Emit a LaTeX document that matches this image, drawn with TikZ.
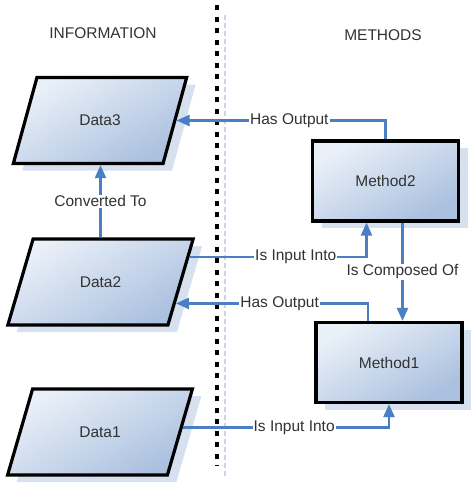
\documentclass[tikz,border=0pt]{standalone}
\usepackage{fontspec}
\setmainfont{Liberation Sans}
\usepackage{tikz}
\usetikzlibrary{
  arrows.meta,
  positioning,
  shapes.geometric,
  shadows,
  calc
}
\definecolor{boxlight}{RGB}{234, 240, 248}
\definecolor{boxdeep}{RGB}{170, 192, 223}
\definecolor{shadeblue}{RGB}{214, 224, 238}
\definecolor{linkblue}{RGB}{74, 126, 197}
\definecolor{sepshadow}{RGB}{200, 214, 235}
\definecolor{inkgray}{RGB}{50, 50, 50}
\pgfdeclareverticalshading{boxshade}{100bp}{color(0bp)=(boxdeep); color(25bp)=(boxdeep); color(75bp)=(boxlight); color(100bp)=(boxlight)}
\newcommand\dgfont{\fontsize{15.5}{18}\selectfont}

\tikzset{
  base/.style={draw=black, line width=3.2pt, shading=boxshade, shading angle=30,
    drop shadow={shadow xshift=9pt, shadow yshift=-7pt, fill=shadeblue, opacity=1},
    font=\dgfont, text=inkgray},
  datanode/.style={base, trapezium, trapezium left angle=63, trapezium right angle=117,
    trapezium stretches=true, minimum width=186pt, minimum height=86pt},
  methodnode/.style={base, rectangle, minimum width=146pt, minimum height=80pt},
  link/.style={draw=linkblue, line width=2.3pt, -{Triangle[length=13pt,width=11pt]}},
  linklabel/.style={fill=white, inner sep=1pt, font=\dgfont, text=inkgray},
  heading/.style={font=\dgfont, text=inkgray}
}

\begin{document}
\begin{tikzpicture}[x=1pt, y=-1pt]
  \useasboundingbox (0, 0) rectangle (474, 491);
  % separator between the two columns
  \coordinate (septop) at (217, 5);
  \coordinate (sepbot) at (217, 466);
  \draw[sepshadow, line width=1.5pt, dash pattern=on 5pt off 3pt] ([shift={(8pt,-10pt)}]septop) -- ([shift={(8pt,-10pt)}]sepbot);
  \draw[black, line width=3.8pt, dash pattern=on 5pt off 6.5pt] (septop) -- (sepbot);
  \node[heading] (infohead) at (103, 33) {INFORMATION};
  \node[heading] (methhead) at (383, 35) {METHODS};
  % information column
  \node[datanode, minimum width=174pt] (d3) at (100, 120.5) {Data3};
  \node[datanode] (d2) at (100.5, 282) {Data2};
  \node[datanode] (d1) at (100, 432) {Data1};
  % methods column
  \node[methodnode] (m2) at (385.5, 181) {Method2};
  \node[methodnode] (m1) at (389, 362.5) {Method1};
  % relations
  \draw[link] (d2.north) -- node[linklabel] {Converted To} (d2.north |- d3.south);
  \draw[link] (m2.north) |- node[linklabel, pos=0.73] {Has Output} (d3.east);
  \draw[link] ($(d2.top right corner)!0.22!(d2.bottom right corner)$)
    -| node[linklabel, pos=0.3] {Is Input Into} ([xshift=-19pt]m2.south);
  \draw[link] ([xshift=17pt]m2.south) -- node[linklabel] {Is Composed Of} ([xshift=17pt]m2.south |- m1.north);
  \draw[link] ([xshift=-21pt]m1.north)
    |- node[linklabel, pos=0.73] {Has Output} ($(d2.top right corner)!0.74!(d2.bottom right corner)$);
  \draw[link] ($(d1.top right corner)!0.45!(d1.bottom right corner)$)
    -| node[linklabel, pos=0.27] {Is Input Into} (m1.south);
\end{tikzpicture}
\end{document}
